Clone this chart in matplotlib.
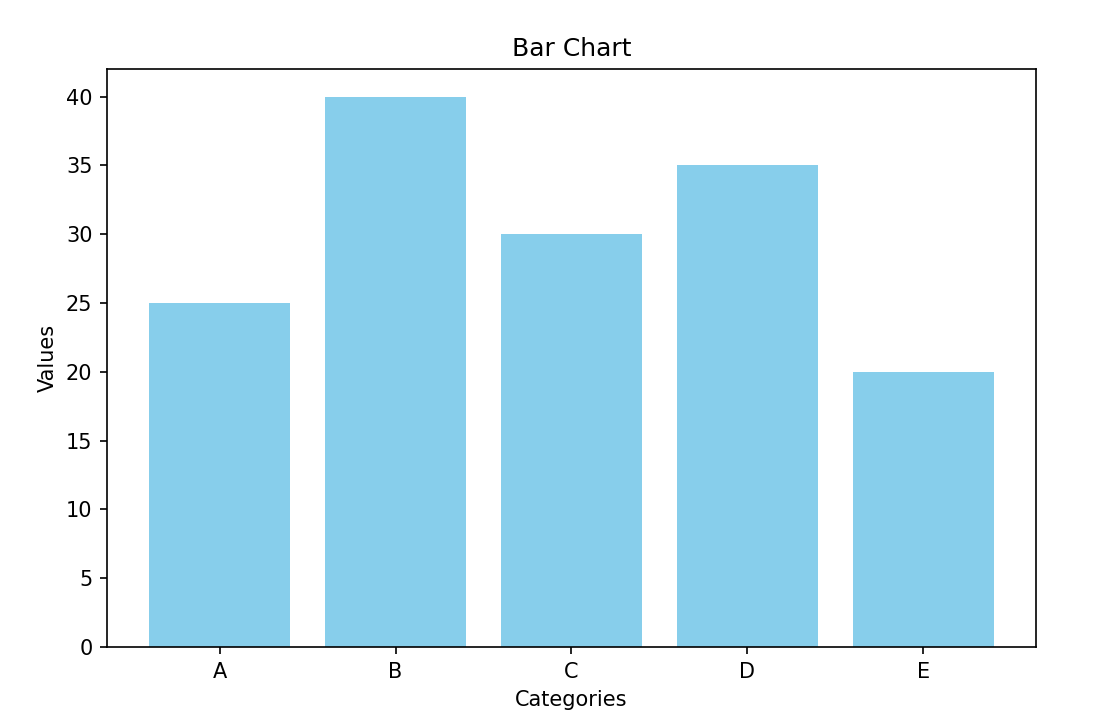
import matplotlib
matplotlib.use("Agg")
import matplotlib.pyplot as plt

categories = ["A", "B", "C", "D", "E"]
values = [25, 40, 30, 35, 20]

DPI = 150
W, H = 1102, 714
fig = plt.figure(figsize=(W / DPI, H / DPI), dpi=DPI)
ax = fig.add_axes([107 / W, 1 - 647 / H, (1036 - 107) / W, (647 - 69) / H])
ax.bar(categories, values, color="skyblue")
ax.set_title("Bar Chart")
ax.set_xlabel("Categories")
ax.set_ylabel("Values")
fig.savefig("out.png", dpi=DPI)
